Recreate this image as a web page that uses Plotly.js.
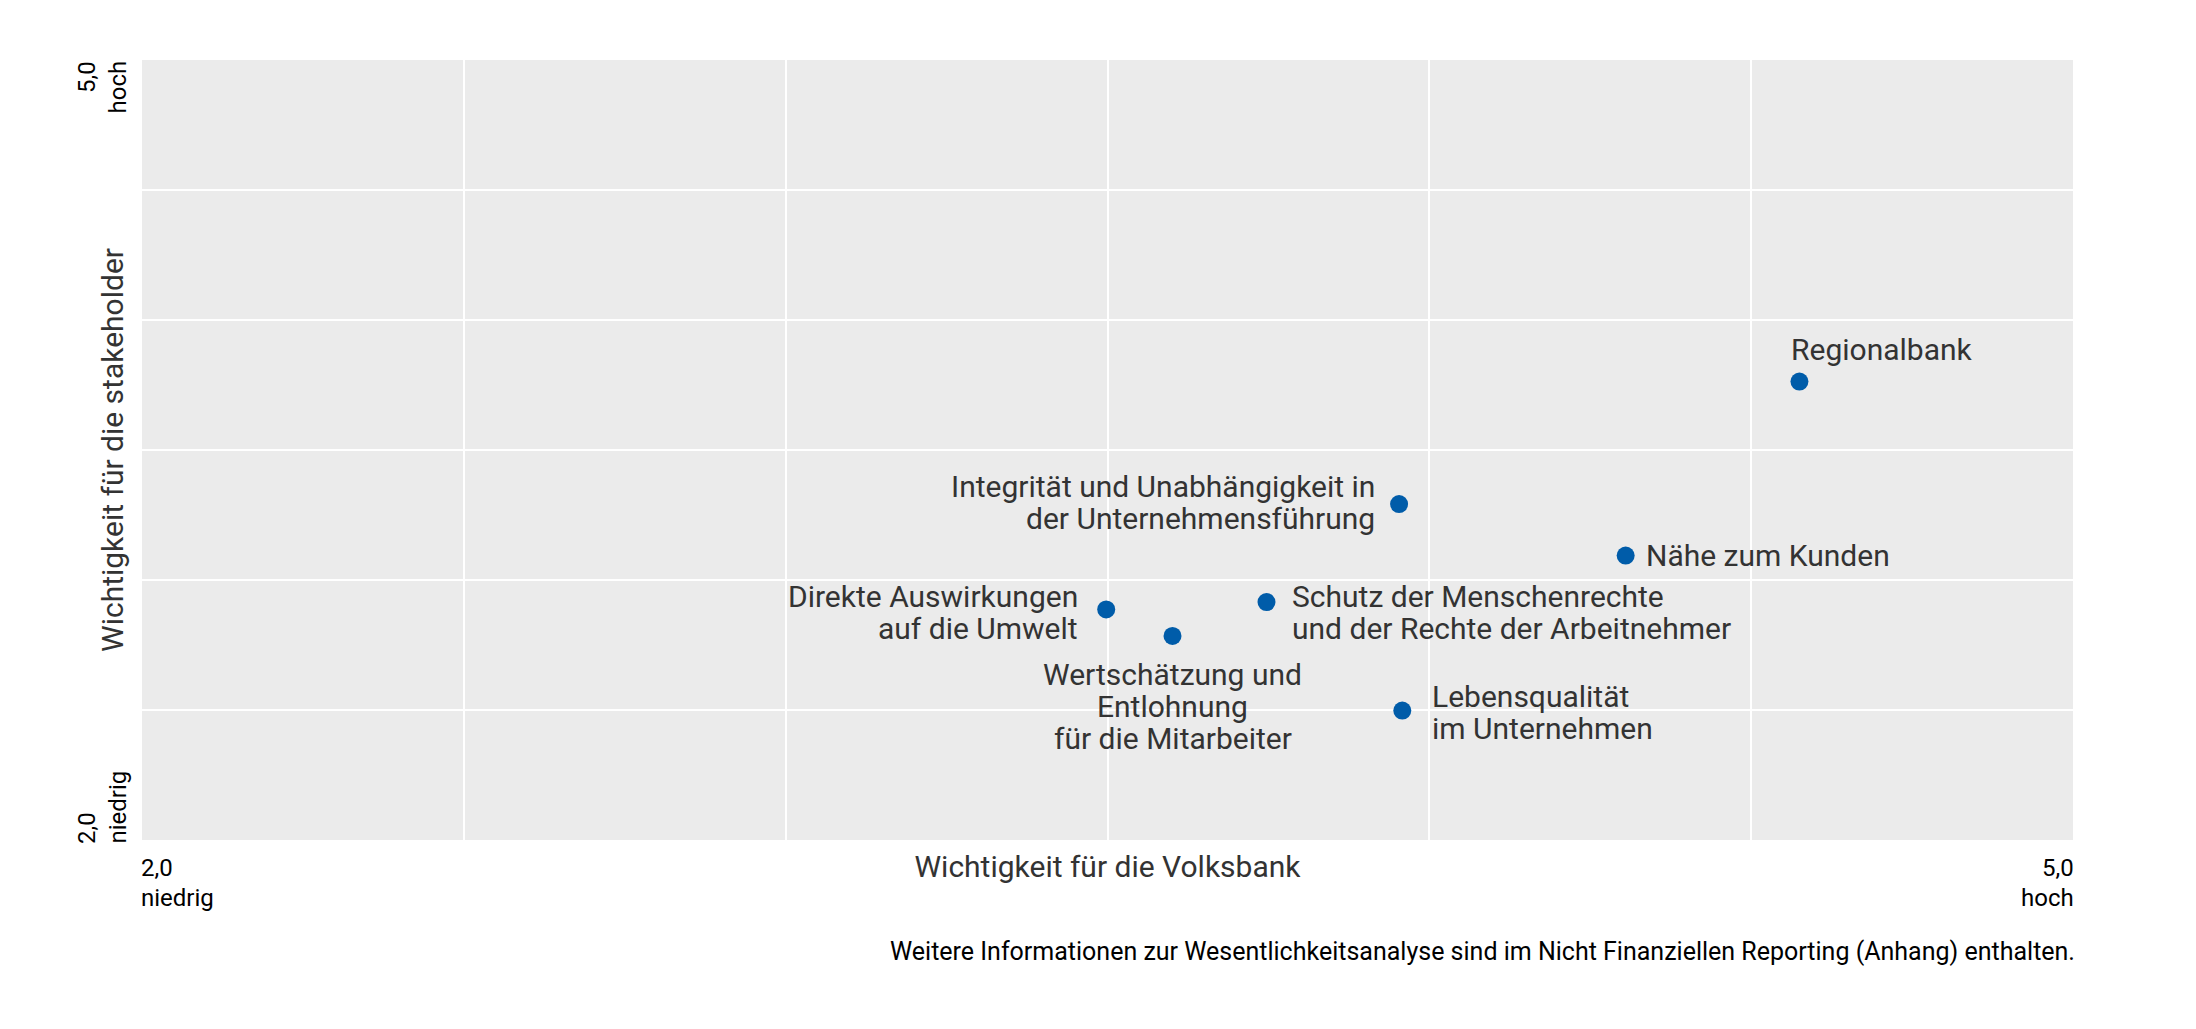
<!DOCTYPE html>
<html>
<head>
<meta charset="utf-8">
<script src="https://cdn.plot.ly/plotly-3.0.1.min.js"></script>
<style>html,body{margin:0;padding:0;background:#fff;}#chart{width:2196px;height:1029px;}</style>
</head>
<body>
<div id="chart"></div>
<script>
// Data
const topics = [
  "Regionalbank",
  "Integrität und Unabhängigkeit in<br>der Unternehmensführung",
  "Nähe zum Kunden",
  "Direkte Auswirkungen<br>auf die Umwelt",
  "Schutz der Menschenrechte<br>und der Rechte der Arbeitnehmer",
  "Wertschätzung und<br>Entlohnung<br>für die Mitarbeiter",
  "Lebensqualität<br>im Unternehmen"
];
const volksbank = [4.575, 3.953, 4.305, 3.498, 3.747, 3.601, 3.958];
const stakeholder = [3.763, 3.292, 3.094, 2.887, 2.915, 2.785, 2.498];
const gridVals = [2.0, 2.5, 3.0, 3.5, 4.0, 4.5, 5.0];
const xTickLabels = ["2,0<br>niedrig", "5,0<br>hoch"];
const yTickLabels = ["2,0<br>niedrig", "5,0<br>hoch"];
const xTitle = "Wichtigkeit für die Volksbank";
const yTitle = "Wichtigkeit für die stakeholder";
const footnote = "Weitere Informationen zur Wesentlichkeitsanalyse sind im Nicht Finanziellen Reporting (Anhang) enthalten.";

// label placement styles (per point): anchor side, horizontal shift, vertical offset of block centre (px, down positive)
const labelStyle = [
  {xanchor:"left",   xshift:-10, dy:-32},
  {xanchor:"right",  xshift:-22, dy:-2},
  {xanchor:"left",   xshift:18,  dy:0},
  {xanchor:"right",  xshift:-26, dy:3},
  {xanchor:"left",   xshift:24,  dy:10},
  {xanchor:"center", xshift:0,   dy:71},
  {xanchor:"left",   xshift:28,  dy:2}
];

const FONT = "Roboto, 'Noto Sans', sans-serif";
const labelColor = "#333333";
const LABEL_SIZE = 30, LABEL_SPACING = 32;
const TICK_SIZE = 24, TICK_SPACING = 30;

const annotations = [];
topics.forEach((t, i) => {
  const lines = t.split("<br>");
  const st = labelStyle[i];
  const n = lines.length;
  lines.forEach((ln, j) => {
    const off = st.dy + (j - (n - 1) / 2) * LABEL_SPACING;
    annotations.push({
      x: volksbank[i], y: stakeholder[i], xref: "x", yref: "y",
      text: ln, showarrow: false, xanchor: st.xanchor, yanchor: "middle",
      xshift: st.xshift, yshift: -off,
      font: {family: FONT, size: LABEL_SIZE, color: labelColor}
    });
  });
});

// x tick labels (two lines each)
xTickLabels.forEach((lab, k) => {
  const xv = k === 0 ? gridVals[0] : gridVals[gridVals.length - 1];
  lab.split("<br>").forEach((ln, j) => {
    annotations.push({x: xv, y: 0, xref: "x", yref: "paper", text: ln, showarrow: false,
      xanchor: k === 0 ? "left" : "right", yanchor: "middle",
      xshift: k === 0 ? -3 : 3, yshift: -28 - j * TICK_SPACING,
      font: {family: FONT, size: TICK_SIZE, color: "#000"}});
  });
});
// y tick labels (rotated, two columns each)
yTickLabels.forEach((lab, k) => {
  const yv = k === 0 ? gridVals[0] : gridVals[gridVals.length - 1];
  lab.split("<br>").forEach((ln, j) => {
    annotations.push({x: 0, y: yv, xref: "paper", yref: "y", text: ln, showarrow: false,
      textangle: -90, xanchor: "center", yanchor: k === 0 ? "bottom" : "top",
      xshift: -55 + j * TICK_SPACING, yshift: k === 0 ? -6 : 1,
      font: {family: FONT, size: TICK_SIZE, color: "#000"}});
  });
});
// footnote
annotations.push({x: 1, y: 0, xref: "paper", yref: "paper", text: footnote, showarrow: false,
  xanchor: "right", yanchor: "middle", xshift: 4, yshift: -111,
  font: {family: FONT, size: 25, color: "#000"}});

const trace = {
  x: volksbank, y: stakeholder, mode: "markers", type: "scatter",
  marker: {color: "#005ca9", size: 18},
  hoverinfo: "skip", showlegend: false
};

const layout = {
  width: 2196, height: 1029,
  margin: {l: 142, r: 123, t: 60, b: 189},
  paper_bgcolor: "#ffffff",
  plot_bgcolor: "#ebebeb",
  font: {family: FONT, color: "#000"},
  xaxis: {
    range: [2, 5], tickvals: gridVals, showticklabels: false,
    showgrid: true, gridcolor: "#ffffff", gridwidth: 2,
    zeroline: false, showline: false, ticks: "",
    title: {text: xTitle, font: {family: FONT, size: 30, color: labelColor}, standoff: 15}
  },
  yaxis: {
    range: [2, 5], tickvals: gridVals, showticklabels: false,
    showgrid: true, gridcolor: "#ffffff", gridwidth: 2,
    zeroline: false, showline: false, ticks: "",
    title: {text: yTitle, font: {family: FONT, size: 30, color: labelColor}, standoff: 8}
  },
  annotations: annotations
};

Plotly.newPlot("chart", [trace], layout, {staticPlot: true, displayModeBar: false});
</script>
</body>
</html>
